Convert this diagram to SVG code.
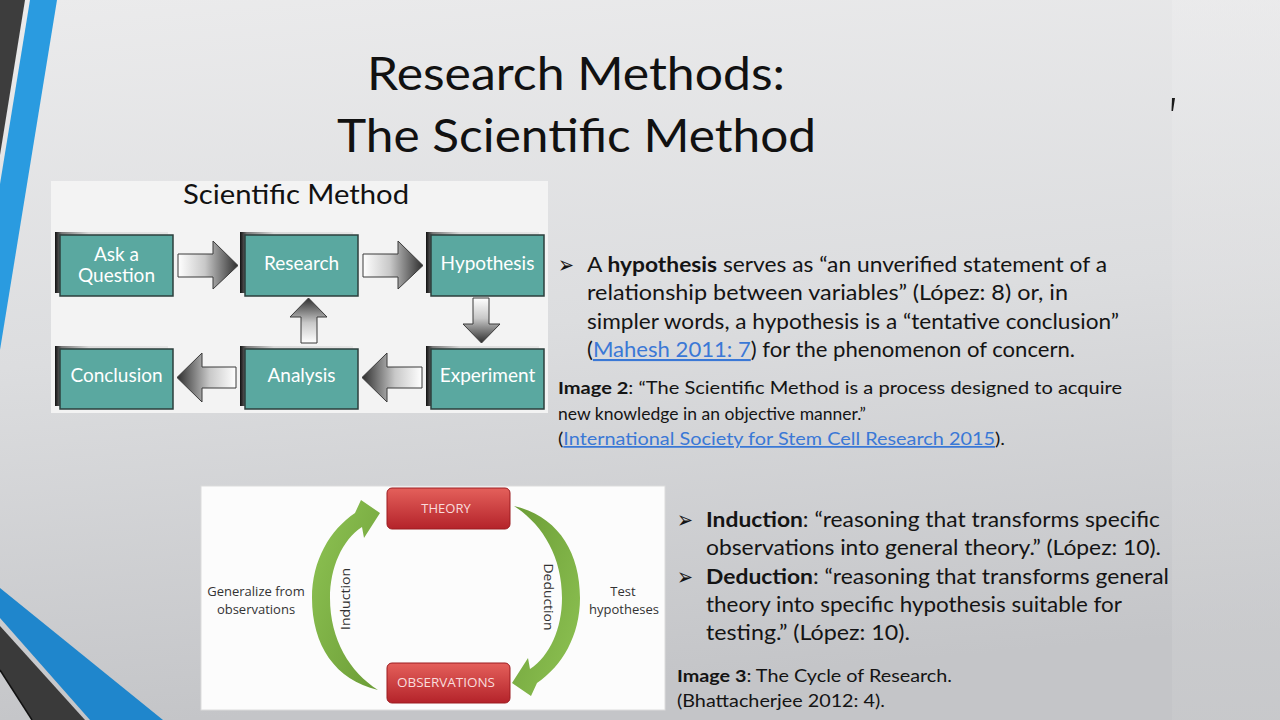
<svg xmlns="http://www.w3.org/2000/svg" width="1280" height="720" viewBox="0 0 1280 720">
<defs>
<linearGradient id="bg" x1="0" y1="0" x2="0.15" y2="1"><stop offset="0" stop-color="#ebebec"/><stop offset="0.5" stop-color="#dcdddf"/><stop offset="1" stop-color="#c4c5c8"/></linearGradient>
<linearGradient id="bgR" x1="0" y1="0" x2="0" y2="1"><stop offset="0" stop-color="#eeeeef"/><stop offset="1" stop-color="#cbccce"/></linearGradient>
<linearGradient id="arR" x1="0" y1="0" x2="1" y2="0"><stop offset="0" stop-color="#ffffff"/><stop offset="0.45" stop-color="#c8c8c8"/><stop offset="1" stop-color="#2e2e2e"/></linearGradient>
<linearGradient id="arL" x1="1" y1="0" x2="0" y2="0"><stop offset="0" stop-color="#ffffff"/><stop offset="0.45" stop-color="#c8c8c8"/><stop offset="1" stop-color="#2e2e2e"/></linearGradient>
<linearGradient id="arD" x1="0" y1="0" x2="0" y2="1"><stop offset="0" stop-color="#ffffff"/><stop offset="0.45" stop-color="#c8c8c8"/><stop offset="1" stop-color="#2e2e2e"/></linearGradient>
<linearGradient id="arU" x1="0" y1="1" x2="0" y2="0"><stop offset="0" stop-color="#ffffff"/><stop offset="0.45" stop-color="#c8c8c8"/><stop offset="1" stop-color="#2e2e2e"/></linearGradient>
<linearGradient id="shd" x1="0" y1="0" x2="1" y2="0"><stop offset="0" stop-color="#111"/><stop offset="0.06" stop-color="#777"/><stop offset="0.3" stop-color="#d8d8d8"/><stop offset="1" stop-color="#e6e6e6"/></linearGradient>
<linearGradient id="red" x1="0" y1="0" x2="0" y2="1"><stop offset="0" stop-color="#e4605b"/><stop offset="1" stop-color="#b4232a"/></linearGradient>
<linearGradient id="grn" x1="0" y1="0" x2="1" y2="1"><stop offset="0" stop-color="#8fc454"/><stop offset="1" stop-color="#6b9c36"/></linearGradient>
<style>
.sm{font-family:"Lato","Open Sans",sans-serif;fill:#fff;font-size:19px;text-anchor:middle}
.box{fill:#5aa8a0;stroke:#2c3f3d;stroke-width:1.5}
.sh{fill:url(#shd)}
.ar{stroke:#3a3a3a;stroke-width:1}
.body{font-family:"Lato","Open Sans",sans-serif;fill:#141414;font-size:21px}
.cap{font-family:"Lato","Open Sans",sans-serif;fill:#141414;font-size:17.5px}
.bul{font-family:"DejaVu Sans",sans-serif;fill:#141414;font-size:24px}
.lnk{fill:#3a78d6;text-decoration:underline}
.cy{font-family:"Open Sans","Liberation Sans",sans-serif;fill:#333;font-size:13px;text-anchor:middle}
.rb{fill:url(#red);stroke:#9c1c20;stroke-width:1}
.rt{font-family:"Open Sans","Liberation Sans",sans-serif;fill:#f9dcdc;font-size:13px;text-anchor:middle}
.ttl{font-family:"Lato","Open Sans",sans-serif;fill:#111;font-size:46px}
</style>
</defs>

<!-- background -->
<rect x="0" y="0" width="1280" height="720" fill="url(#bg)"/>
<rect x="1172" y="0" width="108" height="720" fill="url(#bgR)" opacity="0.5"/>
<path d="M1172,98 L1175,98 L1173,111 L1171.5,111 Z" fill="#1a1a1a"/>
<!-- decorative stripes -->
<polygon points="0,0 25,0 0,155" fill="#3d3d3d"/>
<polygon points="30,0 57,0 0,350 0,184" fill="#2a9be0"/>
<polygon points="0,588 0,618 90,720 163,720" fill="#1f86cc"/>
<polygon points="0,626 0,670 32,720 85,720" fill="#3a3a3a"/>
<path d="M0,670 L32,720" stroke="#111" stroke-width="1.5"/>

<!-- title -->
<g id="title">
<text class="ttl" x="367" y="90" textLength="418" lengthAdjust="spacingAndGlyphs">Research Methods:</text>
<text class="ttl" x="337" y="152" textLength="479" lengthAdjust="spacingAndGlyphs">The Scientific Method</text>
</g>

<!-- image 1 panel -->
<g id="panel1">
<rect x="51" y="181" width="497" height="232" fill="#f3f3f3"/>
<text x="183" y="204" font-family="Lato,'Open Sans',sans-serif" font-size="26" fill="#111" textLength="226" lengthAdjust="spacingAndGlyphs">Scientific Method</text>
</g>

<g id="connectors1">
<polygon class="ar" fill="url(#arR)" points="178,254 213,254 213,241 238,265.5 213,289 213,277 178,277"/>
<polygon class="ar" fill="url(#arR)" points="363,254 398,254 398,241 423,265.5 398,289 398,277 363,277"/>
<polygon class="ar" fill="url(#arD)" points="473,298 489,298 489,324 500,324 481.5,343 463,324 473,324"/>
<polygon class="ar" fill="url(#arU)" points="301,343 317,343 317,317 327,317 308.5,298 290,317 301,317"/>
<polygon class="ar" fill="url(#arL)" points="422,367 387,367 387,353 362,377.5 387,402 387,388 422,388"/>
<polygon class="ar" fill="url(#arL)" points="236,367 202,367 202,353 177,377.5 202,402 202,388 236,388"/>
</g>

<g id="n-ask">
<rect class="sh" x="55" y="232" width="113" height="61"/>
<rect class="box" x="60" y="235" width="113" height="61"/>
<text class="sm" x="116.5" y="261">Ask a</text>
<text class="sm" x="116.5" y="282">Question</text>
</g>
<g id="n-research">
<rect class="sh" x="240" y="232" width="113" height="61"/>
<rect class="box" x="245" y="235" width="113" height="61"/>
<text class="sm" x="301.5" y="270">Research</text>
</g>
<g id="n-hypothesis">
<rect class="sh" x="426" y="232" width="113" height="61"/>
<rect class="box" x="431" y="235" width="113" height="61"/>
<text class="sm" x="487.5" y="270">Hypothesis</text>
</g>
<g id="n-conclusion">
<rect class="sh" x="55" y="346" width="113" height="60"/>
<rect class="box" x="60" y="349" width="113" height="60"/>
<text class="sm" x="116.5" y="382">Conclusion</text>
</g>
<g id="n-analysis">
<rect class="sh" x="240" y="346" width="113" height="60"/>
<rect class="box" x="245" y="349" width="113" height="60"/>
<text class="sm" x="301.5" y="382">Analysis</text>
</g>
<g id="n-experiment">
<rect class="sh" x="426" y="346" width="113" height="60"/>
<rect class="box" x="431" y="349" width="113" height="60"/>
<text class="sm" x="487.5" y="382">Experiment</text>
</g>

<!-- hypothesis text -->
<g id="text1">
<text class="bul" x="558" y="273" textLength="16" lengthAdjust="spacingAndGlyphs">➢</text>
<text class="body" x="587" y="272" textLength="520" lengthAdjust="spacingAndGlyphs">A <tspan font-weight="bold">hypothesis</tspan> serves as “an unverified statement of a</text>
<text class="body" x="587" y="300" textLength="481" lengthAdjust="spacingAndGlyphs">relationship between variables” (López: 8) or, in</text>
<text class="body" x="587" y="329" textLength="532" lengthAdjust="spacingAndGlyphs">simpler words, a hypothesis is a “tentative conclusion”</text>
<text class="body" x="587" y="357" textLength="488" lengthAdjust="spacingAndGlyphs">(<tspan class="lnk">Mahesh 2011: 7</tspan>) for the phenomenon of concern.</text>
<text class="cap" x="558" y="394" textLength="564" lengthAdjust="spacingAndGlyphs"><tspan font-weight="bold">Image 2</tspan>: “The Scientific Method is a process designed to acquire</text>
<text class="cap" x="558" y="420" textLength="308" lengthAdjust="spacing">new knowledge in an objective manner.”</text>
<text class="cap" x="558" y="445" textLength="447" lengthAdjust="spacingAndGlyphs">(<tspan class="lnk">International Society for Stem Cell Research 2015</tspan>).</text>
</g>

<!-- image 3 panel -->
<g id="panel2">
<rect x="201" y="486" width="464" height="224" fill="#fcfcfc" stroke="#dcdcdc" stroke-width="1"/>
</g>

<g id="connectors2">
<path fill="url(#grn)" d="M378,690 C335,680 312,645 312,598 C312,560 330,530 355,513 L361,500 L380,513 L364,538 L362,527 C342,540 330,568 330,598 C330,640 350,672 378,690 Z"/>
<path fill="url(#grn)" transform="rotate(180 446 598)" d="M378,690 C335,680 312,645 312,598 C312,560 330,530 355,513 L361,500 L380,513 L364,538 L362,527 C342,540 330,568 330,598 C330,640 350,672 378,690 Z"/>
<text class="cy" transform="translate(350 599) rotate(-90)" textLength="62" lengthAdjust="spacingAndGlyphs">Induction</text>
<text class="cy" transform="translate(544 597) rotate(90)" textLength="67" lengthAdjust="spacingAndGlyphs">Deduction</text>
</g>

<g id="n-theory">
<rect class="rb" x="387" y="488" width="123" height="41" rx="5"/>
<text class="rt" x="446" y="513">THEORY</text>
</g>
<g id="n-observations">
<rect class="rb" x="387" y="663" width="123" height="40" rx="5"/>
<text class="rt" x="446" y="687" textLength="98" lengthAdjust="spacingAndGlyphs">OBSERVATIONS</text>
</g>
<g id="n-generalize">
<text class="cy" x="256" y="596">Generalize from</text>
<text class="cy" x="256" y="614">observations</text>
</g>
<g id="n-test">
<text class="cy" x="623" y="596">Test</text>
<text class="cy" x="624" y="614">hypotheses</text>
</g>

<!-- induction/deduction text -->
<g id="text2">
<text class="bul" x="677" y="528" textLength="16" lengthAdjust="spacingAndGlyphs">➢</text>
<text class="body" x="706" y="527" textLength="454" lengthAdjust="spacingAndGlyphs"><tspan font-weight="bold">Induction</tspan>: “reasoning that transforms specific</text>
<text class="body" x="706" y="555" textLength="455" lengthAdjust="spacingAndGlyphs">observations into general theory.” (López: 10).</text>
<text class="bul" x="677" y="585" textLength="16" lengthAdjust="spacingAndGlyphs">➢</text>
<text class="body" x="706" y="584" textLength="463" lengthAdjust="spacingAndGlyphs"><tspan font-weight="bold">Deduction</tspan>: “reasoning that transforms general</text>
<text class="body" x="706" y="612" textLength="416" lengthAdjust="spacingAndGlyphs">theory into specific hypothesis suitable for</text>
<text class="body" x="706" y="640" textLength="204" lengthAdjust="spacingAndGlyphs">testing.” (López: 10).</text>
<text class="cap" x="677" y="682" textLength="275" lengthAdjust="spacingAndGlyphs"><tspan font-weight="bold">Image 3</tspan>: The Cycle of Research.</text>
<text class="cap" x="677" y="707" textLength="208" lengthAdjust="spacingAndGlyphs">(Bhattacherjee 2012: 4).</text>
</g>
</svg>
